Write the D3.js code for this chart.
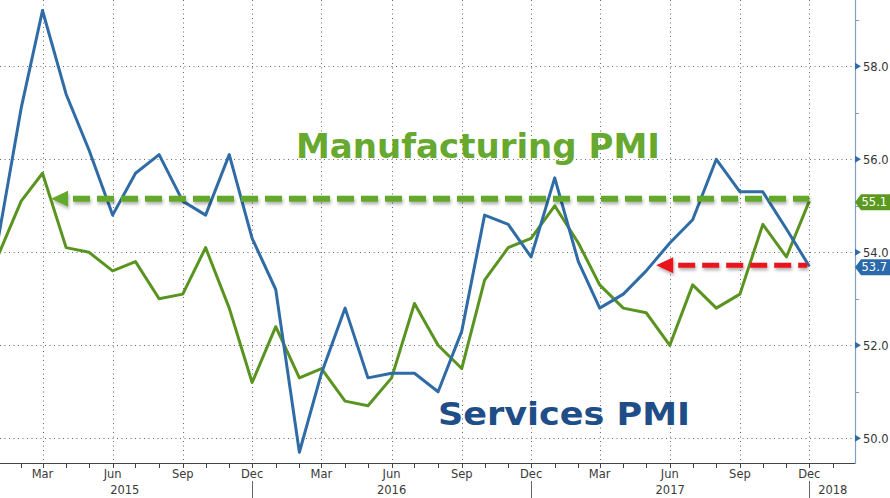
<!DOCTYPE html>
<html><head><meta charset="utf-8">
<script src="https://cdn.jsdelivr.net/npm/d3@7/dist/d3.min.js"></script>
<style>
html,body{margin:0;padding:0;background:#fff;}
svg{display:block;font-family:"DejaVu Sans",Verdana,sans-serif;}
</style></head>
<body><svg id="c" width="890" height="498"></svg>
<script>
// ---- data ----
const months = ["2015-01","2015-02","2015-03","2015-04","2015-05","2015-06","2015-07","2015-08","2015-09","2015-10","2015-11","2015-12",
"2016-01","2016-02","2016-03","2016-04","2016-05","2016-06","2016-07","2016-08","2016-09","2016-10","2016-11","2016-12",
"2017-01","2017-02","2017-03","2017-04","2017-05","2017-06","2017-07","2017-08","2017-09","2017-10","2017-11","2017-12"];
const services = [54.2,57.1,59.2,57.4,56.2,54.8,55.7,56.1,55.1,54.8,56.1,54.3,
53.2,49.7,51.4,52.8,51.3,51.4,51.4,51.0,52.3,54.8,54.6,53.9,
55.6,53.8,52.8,53.1,53.6,54.2,54.7,56.0,55.3,55.3,54.5,53.7];
const manufacturing = [53.9,55.1,55.7,54.1,54.0,53.6,53.8,53.0,53.1,54.1,52.8,51.2,
52.4,51.3,51.5,50.8,50.7,51.3,52.9,52.0,51.5,53.4,54.1,54.3,
55.0,54.2,53.3,52.8,52.7,52.0,53.3,52.8,53.1,54.6,53.9,55.1];
const yTicks = [50,52,54,56,58];
const yMinor = [51,53,55,57,59];
const monthAbbr = ["Jan","Feb","Mar","Apr","May","Jun","Jul","Aug","Sep","Oct","Nov","Dec"];
const years = ["2015","2016","2017","2018"];
const seriesNames = ["Manufacturing PMI","Services PMI"];
const lastLabels = ["55.1","53.7"];

// ---- layout ----
const svg = d3.select("#c");
const plotRight = 855, plotBottom = 463;
const parse = d3.timeParse("%Y-%m");
const dates = months.map(parse);
const x = d3.scaleTime().domain([parse("2015-03"), parse("2017-12")]).range([42.5, 809.3]);
const y = d3.scaleLinear().domain([50, 58]).range([438.3, 66.3]);

const cBlue = "#2f6ca6", cGreen = "#5a9420", cTitleGreen = "#67a82f", cNavy = "#1f4d87";

const defs = svg.append("defs");
defs.append("clipPath").attr("id","plot").append("rect").attr("x",0).attr("y",0).attr("width",plotRight).attr("height",plotBottom);
const f = defs.append("filter").attr("id","sh").attr("x","-5%").attr("y","-50%").attr("width","110%").attr("height","250%");
f.append("feDropShadow").attr("dx",1).attr("dy",2.5).attr("stdDeviation",1.5).attr("flood-color","#000").attr("flood-opacity",0.3);

// grid
const allMonths = d3.timeMonth.range(parse("2015-01"), parse("2018-02"));
const qMonths = allMonths.filter(d => [2,5,8,11].includes(d.getMonth()));
const grid = svg.append("g").attr("stroke","#666").attr("stroke-width",1).attr("stroke-dasharray","1,3.5");
grid.selectAll("line.v").data(qMonths).join("line")
  .attr("x1",d=>Math.round(x(d))+0.5).attr("x2",d=>Math.round(x(d))+0.5).attr("y1",0).attr("y2",plotBottom);
grid.selectAll("line.h").data(yTicks).join("line")
  .attr("x1",0).attr("x2",plotRight).attr("y1",d=>Math.round(y(d))+0.5).attr("y2",d=>Math.round(y(d))+0.5);

// bottom axis
const ax = svg.append("g").attr("transform",`translate(0,${plotBottom})`);
ax.append("line").attr("x1",0).attr("x2",plotRight).attr("y1",0.5).attr("y2",0.5).attr("stroke","#444");
ax.selectAll("line.t").data(allMonths.filter(d=>x(d)>=0 && x(d)<=plotRight)).join("line")
  .attr("x1",d=>Math.round(x(d))+0.5).attr("x2",d=>Math.round(x(d))+0.5).attr("y1",0).attr("y2",5).attr("stroke","#444");
ax.selectAll("text.m").data(qMonths.filter(d=>d<=parse("2017-12"))).join("text")
  .attr("x",d=>x(d)).attr("y",15).attr("text-anchor","middle").attr("font-size",11.5).attr("fill","#3a3a3a")
  .text(d=>monthAbbr[d.getMonth()]);
// year labels and separators
const decs = [parse("2015-12"), parse("2016-12"), parse("2017-12")];
const yearCenters = [ (x(parse("2015-01"))+x(decs[0]))/2, (x(decs[0])+x(decs[1]))/2, (x(decs[1])+x(decs[2]))/2, x(decs[2])+23.5 ];
ax.selectAll("text.y").data(years).join("text")
  .attr("x",(d,i)=>yearCenters[i]).attr("y",31).attr("text-anchor","middle").attr("font-size",11.5).attr("fill","#3a3a3a").text(d=>d);
ax.selectAll("line.sep").data(decs).join("line")
  .attr("x1",d=>Math.round(x(d))+0.5).attr("x2",d=>Math.round(x(d))+0.5).attr("y1",18).attr("y2",35).attr("stroke","#666");

// right axis
const ra = svg.append("g");
ra.append("line").attr("x1",plotRight+0.5).attr("x2",plotRight+0.5).attr("y1",0).attr("y2",plotBottom+1).attr("stroke","#7f9fc4").attr("stroke-width",1.2);
ra.selectAll("path.tri").data(yTicks).join("path")
  .attr("d",d=>`M${plotRight},${y(d)-3.5} L${plotRight+6},${y(d)} L${plotRight},${y(d)+3.5}Z`).attr("fill","#2f6ca6");
ra.selectAll("line.mn").data(yMinor).join("line")
  .attr("x1",plotRight).attr("x2",plotRight+4).attr("y1",d=>Math.round(y(d))+0.5).attr("y2",d=>Math.round(y(d))+0.5).attr("stroke","#7f9fc4");
ra.selectAll("text").data(yTicks).join("text")
  .attr("x",plotRight+8).attr("y",d=>y(d)+4.5).attr("font-size",11.5).attr("fill","#333").text(d=>d.toFixed(1));

// lines
const line = d3.line().x((d,i)=>x(dates[i])).y(d=>y(d));
const lg = svg.append("g").attr("clip-path","url(#plot)");
lg.append("path").datum(manufacturing).attr("d",line).attr("fill","none").attr("stroke",cGreen).attr("stroke-width",3).attr("stroke-linejoin","round");
lg.append("path").datum(services).attr("d",line).attr("fill","none").attr("stroke",cBlue).attr("stroke-width",3).attr("stroke-linejoin","round");

// annotation arrows
function arrow(x0, x1, yy, color, w){
  const g = svg.append("g").attr("filter","url(#sh)");
  g.append("line").attr("x1",x0+22).attr("x2",x1).attr("y1",yy).attr("y2",yy)
    .attr("stroke",color).attr("stroke-width",w).attr("stroke-dasharray","17,7");
  g.append("path").attr("d",`M${x0},${yy} L${x0+17},${yy-8} L${x0+17},${yy+8}Z`).attr("fill",color);
}
const lastX = x(dates[dates.length-1]);
arrow(x(parse("2015-03"))+8.5, lastX, y(manufacturing[manufacturing.length-1])-2.5, "#62a82a", 6);
arrow(x(parse("2017-05"))+10, lastX-2, y(services[services.length-1])-1, "#e8161a", 5);

// last-value tags
function tag(val, label, color){
  const yy = y(val)+1;
  svg.append("path").attr("d",`M${plotRight},${yy} L${plotRight+6},${yy-8} L890,${yy-8} L890,${yy+8} L${plotRight+6},${yy+8}Z`).attr("fill",color);
  svg.append("text").attr("x",plotRight+6.5).attr("y",yy+4.2).attr("font-size",11.5).attr("fill","#fff").text(label);
}
tag(manufacturing[manufacturing.length-1], lastLabels[0], "#5b9a20");
tag(services[services.length-1], lastLabels[1], "#2a6aab");

// titles
svg.append("text").attr("x",296).attr("y",158).attr("font-size",33).attr("font-weight","bold").attr("fill",cTitleGreen)
  .attr("textLength",364).attr("lengthAdjust","spacingAndGlyphs").text(seriesNames[0]);
svg.append("text").attr("x",438).attr("y",425).attr("font-size",32).attr("font-weight","bold").attr("fill",cNavy)
  .attr("textLength",252).attr("lengthAdjust","spacingAndGlyphs").text(seriesNames[1]);
</script>
</body></html>
